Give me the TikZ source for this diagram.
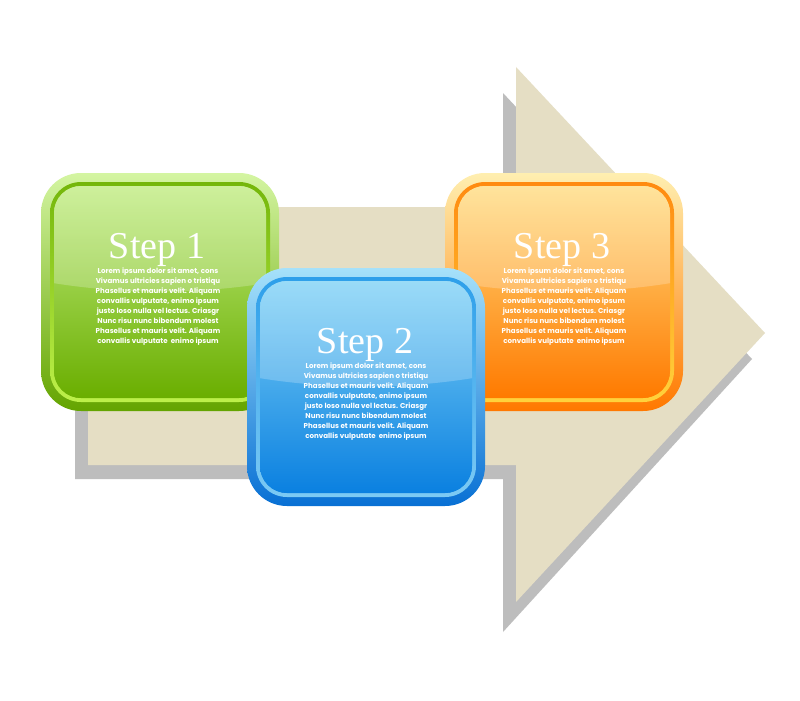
\documentclass[tikz,border=0pt]{standalone}
\usepackage{fontspec}
\newfontfamily\bodyfont{Poppins}
\newfontfamily\titlefont{Liberation Serif}
\usetikzlibrary{calc}
\definecolor{beige}{HTML}{E5DEC4}
\definecolor{shadowgray}{HTML}{BDBDBD}
% green
\definecolor{grimtop}{HTML}{D4F5A2}\definecolor{grimbot}{HTML}{64A400}
\definecolor{gringtop}{HTML}{74B60A}\definecolor{gringbot}{HTML}{BDF04A}
\definecolor{gbodytop}{HTML}{C0EC80}\definecolor{gbodymid}{HTML}{88CC06}\definecolor{gbodybot}{HTML}{6AAE00}
% blue
\definecolor{brimtop}{HTML}{A6E1FA}\definecolor{brimbot}{HTML}{0870D4}
\definecolor{bringtop}{HTML}{2E9FEA}\definecolor{bringbot}{HTML}{7CCAF4}
\definecolor{bbodytop}{HTML}{7ED1F6}\definecolor{bbodymid}{HTML}{22A0EC}\definecolor{bbodybot}{HTML}{0A80E0}
% orange
\definecolor{orimtop}{HTML}{FFEFB0}\definecolor{orimbot}{HTML}{FF7800}
\definecolor{oringtop}{HTML}{FF8A10}\definecolor{oringbot}{HTML}{FFD23C}
\definecolor{obodytop}{HTML}{FFDC80}\definecolor{obodymid}{HTML}{FFA418}\definecolor{obodybot}{HTML}{FF7A00}
\tikzset{
  titletext/.style={text=white, font=\titlefont\fontsize{38}{40}\selectfont, anchor=base, inner sep=0pt},
  bodytext/.style={text=white, font=\bodyfont\bfseries\fontsize{7.1}{9.9}\selectfont, align=center, anchor=north, inner sep=0pt},
}
\newcommand\glossybox[3]{%
  \begin{scope}[shift={(#1,#2)}]
    \shade[top color=#3rimtop, bottom color=#3rimbot, rounded corners=40pt] (0,0) rectangle (238,238);
    \shade[top color=#3ringtop, bottom color=#3ringbot, even odd rule]
      [rounded corners=31pt] (9,9) rectangle (229,229)
      [rounded corners=27pt] (13,13) rectangle (225,225);
    \shade[top color=#3bodytop, middle color=#3bodymid, bottom color=#3bodybot, rounded corners=27pt] (13,13) rectangle (225,225);
    \begin{scope}
      \clip[rounded corners=27pt] (13,13) rectangle (225,225);
      \fill[white, opacity=0.22] (0,0) -- (238,0) -- (238,108) .. controls (160,122) and (78,122) .. (0,108) -- cycle;
    \end{scope}
  \end{scope}}
\newcommand\loremtext{Lorem ipsum dolor sit amet, cons\\Vivamus ultricies sapien o tristiqu\\Phasellus et mauris velit. Aliquam\\convallis vulputate, enimo ipsum\\justo loso nulla vel lectus. Criasgr\\Nunc risu nunc bibendum molest\\Phasellus et mauris velit. Aliquam\\convallis vulputate\ \ enimo ipsum}
\begin{document}
\begin{tikzpicture}[x=1pt, y=-1pt]
  \useasboundingbox (0,0) rectangle (800,701);
  \fill[white] (0,0) rectangle (800,701);
  % arrow shadow
  \fill[shadowgray] (75,222) -- (503,222) -- (503,93) -- (752,359) -- (503,632) -- (503,479) -- (75,479) -- cycle;
  % arrow
  \fill[beige] (88,207) -- (516,207) -- (516,67) -- (765,333) -- (516,602) -- (516,465) -- (88,465) -- cycle;
  % boxes
  \glossybox{41}{173}{g}
  \glossybox{445}{173}{o}
  \glossybox{247}{268}{b}
  % texts
  \node[titletext] (s1title) at (157,258) {Step 1};
  \node[bodytext] (s1body) at (158,268) {\loremtext};
  \node[titletext] (s3title) at (562,258) {Step 3};
  \node[bodytext] (s3body) at (564,268) {\loremtext};
  \node[titletext] (s2title) at (365,353) {Step 2};
  \node[bodytext] (s2body) at (366,363) {\loremtext};
\end{tikzpicture}
\end{document}
